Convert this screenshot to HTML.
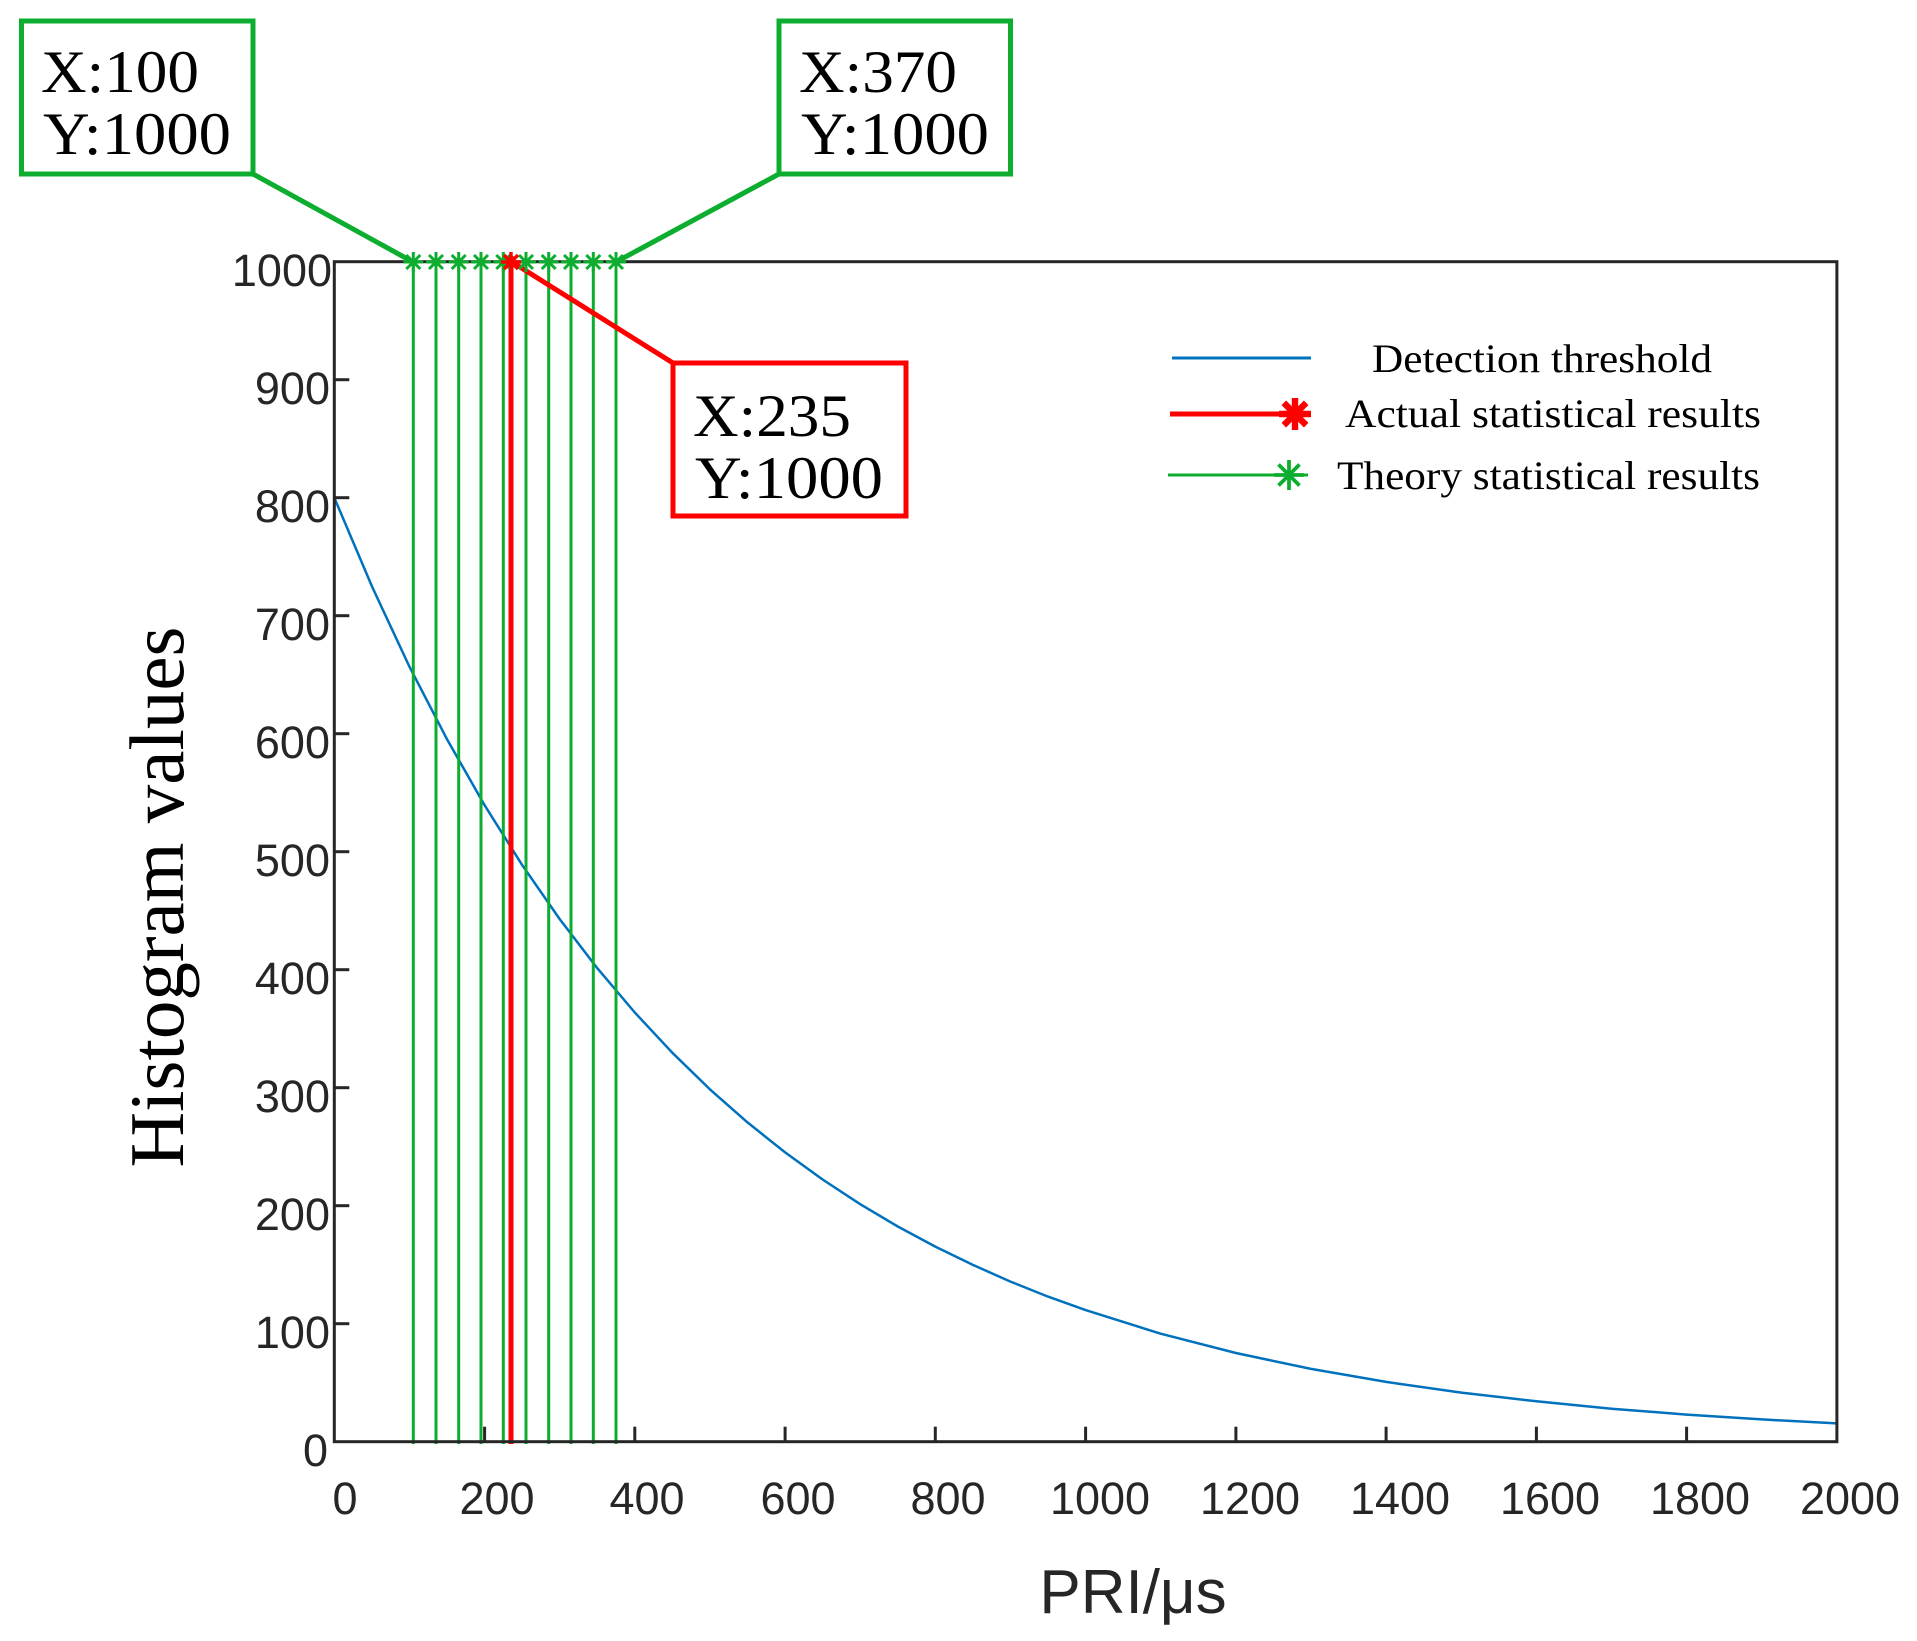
<!DOCTYPE html>
<html><head><meta charset="utf-8"><style>html,body{margin:0;padding:0;background:#fff}svg{display:block}</style></head>
<body>
<svg width="1917" height="1641" viewBox="0 0 1917 1641" xmlns="http://www.w3.org/2000/svg">
<rect width="1917" height="1641" fill="#fff"/>
<!-- blue curve -->
<polyline fill="none" stroke="#0072BD" stroke-width="2.5" stroke-linejoin="round" points="334.3,497.7 371.9,586.3 409.4,666.6 447,739.2 484.6,805.2 522.1,864.9 559.7,919.1 597.3,968.2 634.8,1012.5 672.4,1052.8 710,1089.4 747.5,1122.4 785.1,1152.4 822.6,1179.5 860.2,1204.2 897.8,1226.5 935.3,1246.6 972.9,1264.9 1010.5,1281.6 1048,1296.6 1085.6,1310.1 1160.7,1333.7 1235.9,1353 1311,1368.9 1386.1,1381.9 1461.3,1392.6 1536.4,1401.3 1611.5,1408.7 1686.6,1414.6 1761.8,1419.4 1836.9,1423.4"/>
<!-- green lines -->
<g stroke="#0DAE2F" stroke-width="3">
<line x1="413.3" y1="262" x2="413.3" y2="1444"/>
<line x1="436" y1="262" x2="436" y2="1444"/>
<line x1="458.7" y1="262" x2="458.7" y2="1444"/>
<line x1="481" y1="262" x2="481" y2="1444"/>
<line x1="503.3" y1="262" x2="503.3" y2="1444"/>
<line x1="526" y1="262" x2="526" y2="1444"/>
<line x1="548.7" y1="262" x2="548.7" y2="1444"/>
<line x1="571" y1="262" x2="571" y2="1444"/>
<line x1="593.3" y1="262" x2="593.3" y2="1444"/>
<line x1="616" y1="262" x2="616" y2="1444"/>
</g>
<line x1="511" y1="256" x2="511" y2="1444" stroke="#FF0000" stroke-width="5"/>
<!-- axes -->
<rect x="334.3" y="261.7" width="1502.6" height="1180" fill="none" stroke="#262626" stroke-width="3"/>
<g stroke="#262626" stroke-width="3">
<line x1="484.6" y1="1441.7" x2="484.6" y2="1426.7"/><line x1="634.8" y1="1441.7" x2="634.8" y2="1426.7"/>
<line x1="785.1" y1="1441.7" x2="785.1" y2="1426.7"/><line x1="935.3" y1="1441.7" x2="935.3" y2="1426.7"/>
<line x1="1085.6" y1="1441.7" x2="1085.6" y2="1426.7"/><line x1="1235.9" y1="1441.7" x2="1235.9" y2="1426.7"/>
<line x1="1386.1" y1="1441.7" x2="1386.1" y2="1426.7"/><line x1="1536.4" y1="1441.7" x2="1536.4" y2="1426.7"/>
<line x1="1686.6" y1="1441.7" x2="1686.6" y2="1426.7"/>
<line x1="334.3" y1="1323.7" x2="349.3" y2="1323.7"/><line x1="334.3" y1="1205.7" x2="349.3" y2="1205.7"/>
<line x1="334.3" y1="1087.7" x2="349.3" y2="1087.7"/><line x1="334.3" y1="969.7" x2="349.3" y2="969.7"/>
<line x1="334.3" y1="851.7" x2="349.3" y2="851.7"/><line x1="334.3" y1="733.7" x2="349.3" y2="733.7"/>
<line x1="334.3" y1="615.7" x2="349.3" y2="615.7"/><line x1="334.3" y1="497.7" x2="349.3" y2="497.7"/>
<line x1="334.3" y1="379.7" x2="349.3" y2="379.7"/>
</g>
<!-- tick labels -->
<g font-family="Liberation Sans, sans-serif" font-size="45" fill="#262626" text-anchor="middle">
<text x="345" y="1514">0</text><text x="497" y="1514">200</text><text x="647" y="1514">400</text>
<text x="798" y="1514">600</text><text x="948" y="1514">800</text><text x="1100" y="1514">1000</text>
<text x="1250" y="1514">1200</text><text x="1400" y="1514">1400</text><text x="1550" y="1514">1600</text>
<text x="1700" y="1514">1800</text><text x="1850" y="1514">2000</text>
</g>
<g font-family="Liberation Sans, sans-serif" font-size="45" fill="#262626" text-anchor="end">
<text x="328" y="1466">0</text><text x="330" y="1348">100</text><text x="330" y="1230">200</text>
<text x="330" y="1112">300</text><text x="330" y="994">400</text><text x="330" y="876">500</text>
<text x="330" y="758">600</text><text x="330" y="640">700</text><text x="330" y="522">800</text>
<text x="330" y="404">900</text><text x="332" y="286">1000</text>
</g>
<text x="1133" y="1613" font-family="Liberation Sans, sans-serif" font-size="62" fill="#262626" text-anchor="middle">PRI/μs</text>
<text transform="translate(183,897) rotate(-90)" font-family="Liberation Serif, serif" font-size="77" fill="#000" text-anchor="middle">Histogram values</text>
<!-- annotation leader lines -->
<line x1="253" y1="174" x2="413" y2="262" stroke="#0DAE2F" stroke-width="5"/>
<line x1="779" y1="174" x2="616" y2="262" stroke="#0DAE2F" stroke-width="5"/>
<line x1="512" y1="262" x2="673" y2="363" stroke="#FF0000" stroke-width="5"/>
<!-- stars -->
<defs>
<g id="st"><line x1="-10" y1="0" x2="10" y2="0"/><line x1="0" y1="-10" x2="0" y2="10"/><line x1="-7" y1="-7" x2="7" y2="7"/><line x1="-7" y1="7" x2="7" y2="-7"/></g>
</defs>
<g stroke="#0DAE2F" stroke-width="3">
<use href="#st" x="413.3" y="262"/><use href="#st" x="436" y="262"/><use href="#st" x="458.7" y="262"/>
<use href="#st" x="481" y="262"/><use href="#st" x="503.3" y="262"/><use href="#st" x="526" y="262"/>
<use href="#st" x="548.7" y="262"/><use href="#st" x="571" y="262"/><use href="#st" x="593.3" y="262"/>
<use href="#st" x="616" y="262"/>
</g>
<g stroke="#FF0000" stroke-width="3.5"><use href="#st" x="511" y="262"/></g>
<!-- annotation boxes -->
<g font-family="Liberation Serif, serif" font-size="60" fill="#000">
<rect x="21.5" y="21" width="231.5" height="153" fill="#fff" stroke="#0DAE2F" stroke-width="5"/>
<text x="41" y="92" textLength="158" lengthAdjust="spacingAndGlyphs">X:100</text>
<text x="43" y="154" textLength="188" lengthAdjust="spacingAndGlyphs">Y:1000</text>
<rect x="779" y="21" width="231.5" height="153" fill="#fff" stroke="#0DAE2F" stroke-width="5"/>
<text x="799" y="92" textLength="158" lengthAdjust="spacingAndGlyphs">X:370</text>
<text x="801" y="154" textLength="188" lengthAdjust="spacingAndGlyphs">Y:1000</text>
<rect x="673" y="363" width="233" height="153" fill="#fff" stroke="#FF0000" stroke-width="5"/>
<text x="693" y="436" textLength="158" lengthAdjust="spacingAndGlyphs">X:235</text>
<text x="695" y="498" textLength="188" lengthAdjust="spacingAndGlyphs">Y:1000</text>
</g>
<!-- legend -->
<line x1="1172" y1="358" x2="1311" y2="358" stroke="#0072BD" stroke-width="3"/>
<line x1="1170" y1="414" x2="1310" y2="414" stroke="#FF0000" stroke-width="5"/>
<g stroke="#FF0000" stroke-width="4"><use href="#st" x="1295" y="414" transform="translate(1295,414) scale(1.6) translate(-1295,-414)"/></g>
<line x1="1168" y1="475" x2="1308" y2="475" stroke="#0DAE2F" stroke-width="3"/>
<g stroke="#0DAE2F" stroke-width="2.5"><use href="#st" x="1289" y="475" transform="translate(1289,475) scale(1.5) translate(-1289,-475)"/></g>
<g font-family="Liberation Serif, serif" font-size="40" fill="#000">
<text x="1372" y="372" textLength="340" lengthAdjust="spacingAndGlyphs">Detection threshold</text>
<text x="1345" y="427" textLength="416" lengthAdjust="spacingAndGlyphs">Actual statistical results</text>
<text x="1337" y="489" textLength="423" lengthAdjust="spacingAndGlyphs">Theory statistical results</text>
</g>
</svg>
</body></html>
